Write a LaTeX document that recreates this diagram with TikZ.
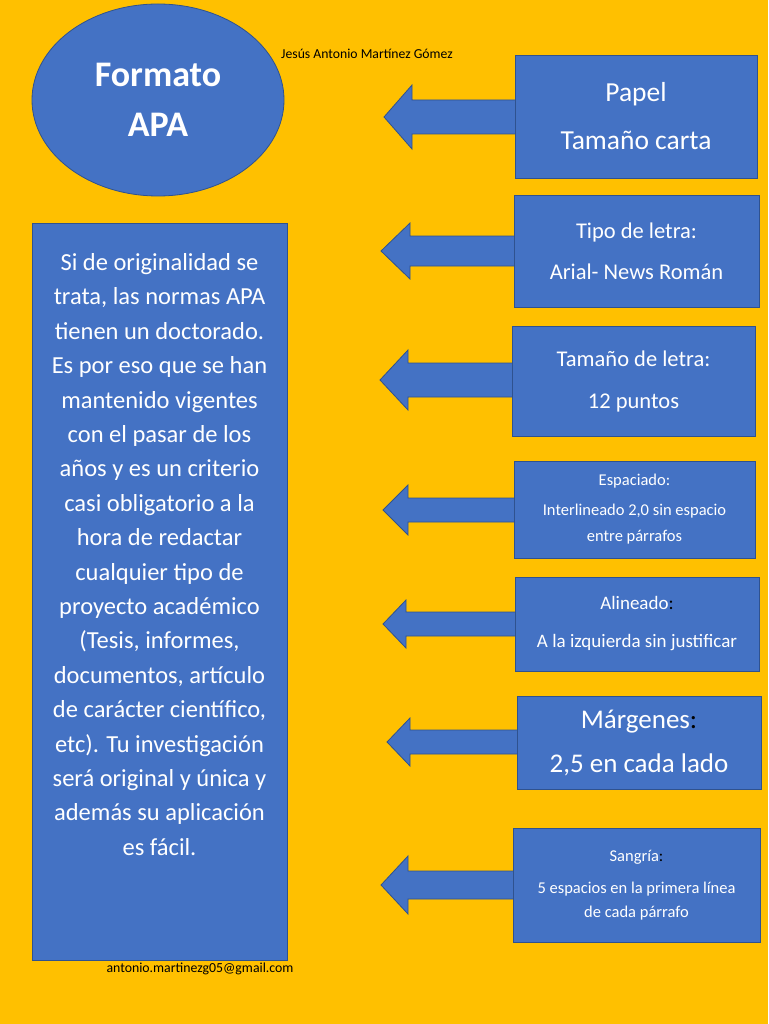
\documentclass[tikz,border=0pt]{standalone}
\usepackage{fontspec}
\setmainfont{Carlito}
\usetikzlibrary{shapes.geometric}
\definecolor{bg}{HTML}{FFC000}
\definecolor{bl}{HTML}{4472C4}
\definecolor{bd}{HTML}{2F528F}
\begin{document}
\begin{tikzpicture}[x=1pt,y=-1pt,
  box/.style={draw=bd,fill=bl,line width=0.8pt,text=white,align=center,inner sep=0pt},
  arr/.style={draw=bd,fill=bl,line width=0.8pt}]
\fill[bg] (0,0) rectangle (768,1024);
\useasboundingbox (0,0) rectangle (768,1024);
\newcommand{\arrw}[6]{% tip x, tip y, head back x, half head, half shaft, box x
  \draw[arr] (#1,#2) -- (#3,#2-#4) -- (#3,#2-#5) -- (#6+4,#2-#5) -- (#6+4,#2+#5) -- (#3,#2+#5) -- (#3,#2+#4) -- cycle;}
\arrw{384}{117}{412}{32}{17}{515}
\arrw{381}{251}{410}{28}{15}{514}
\arrw{380}{380}{408}{30}{17}{512}
\arrw{383}{510}{408}{25}{12}{514}
\arrw{383}{624}{406}{24}{12}{515}
\arrw{387}{742}{410}{24}{12}{517}
\arrw{381}{885}{408}{29}{14}{513}
\node[box,minimum width=242,minimum height=123,font=\fontsize{27.5}{48}\selectfont] (b1) at (636,116.5) {Papel\\Tamaño carta};
\node[box,minimum width=245,minimum height=112,font=\fontsize{22.5}{41}\selectfont] (b2) at (636.5,251) {Tipo de letra:\\Arial- News Román};
\node[box,minimum width=243,minimum height=110,font=\fontsize{22.5}{42}\selectfont] (b3) at (633.5,381) {Tamaño de letra:\\12 puntos};
\node[box,minimum width=241,minimum height=97,font=\fontsize{16.5}{26}\selectfont] (b4) at (634.5,509.5) {Espaciado:\\[4pt]Interlineado 2,0 sin espacio\\entre párrafos};
\node[box,minimum width=244,minimum height=94,font=\fontsize{19}{38}\selectfont] (b5) at (637,624) {Alineado\textcolor{black}{:}\\A la izquierda sin justificar};
\node[box,minimum width=244,minimum height=93,font=\fontsize{27}{44}\selectfont] (b6) at (639,742.5) {Márgenes\textcolor{black}{:}\\2,5 en cada lado};
\node[box,minimum width=247,minimum height=114,font=\fontsize{16.5}{24}\selectfont] (b7) at (636.5,885) {Sangría\textcolor{black}{:}\\[8pt]5 espacios en la primera línea\\de cada párrafo};
\node[ellipse,draw=bd,fill=bl,line width=0.8pt,minimum width=252,minimum height=192,text=white,align=center,font=\bfseries\fontsize{36}{50}\selectfont] (t) at (158,100) {Formato\\APA};
\node[box,minimum width=255,minimum height=737,anchor=north west] (m) at (32,223) {};
\node[text=white,align=center,anchor=north,font=\fontsize{24.5}{34.4}\selectfont] (mt) at (159.5,250) {Si de originalidad se\\trata, las normas APA\\tienen un doctorado.\\Es por eso que se han\\mantenido vigentes\\con el pasar de los\\años y es un criterio\\casi obligatorio a la\\hora de redactar\\cualquier tipo de\\proyecto académico\\(Tesis, informes,\\documentos, artículo\\de carácter científico,\\etc). Tu investigación\\será original y única y\\además su aplicación\\es fácil.};
\node[font=\fontsize{13.7}{14}\selectfont] (au) at (367,54) {Jesús Antonio Martínez Gómez};
\node[font=\fontsize{13.8}{14}\selectfont] (em) at (200,969) {antonio.martinezg05@gmail.com};
\end{tikzpicture}
\end{document}
